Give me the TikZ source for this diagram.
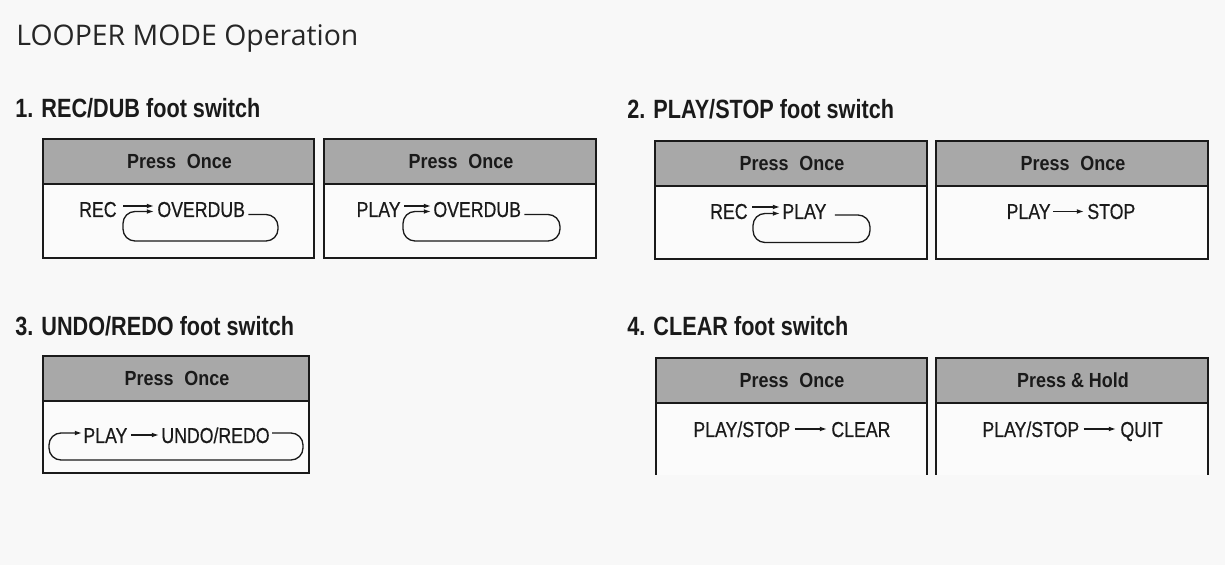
\documentclass[tikz,border=0pt]{standalone}
\usepackage{fontspec}
\setmainfont{Liberation Sans}
\newfontfamily\titlefontfam{Open Sans}
\newfontfamily\bodyfontfam[FakeStretch=0.82,FakeBold=0.5]{Liberation Sans}
\newfontfamily\headfontfam[FakeStretch=0.88]{Liberation Sans Bold}
\newfontfamily\sectfontfam[FakeStretch=0.82]{Liberation Sans Bold}
\usetikzlibrary{arrows.meta,calc}
\definecolor{bgcol}{HTML}{F8F8F8}
\definecolor{headcol}{HTML}{A8A8A8}
\definecolor{bodycol}{HTML}{FBFBFB}
\definecolor{inkcol}{HTML}{1A1A1A}
\definecolor{titlecol}{HTML}{262626}
\newcommand\myloopbox[4]{%
  \fill[bodycol] (#1,#2) rectangle (#3,#4);
  \fill[headcol] (#1,#2) rectangle (#3,{#2+45});
  \draw[divline] (#1,{#2+45}) -- (#3,{#2+45});
  \draw[boxline] (#1,#2) rectangle (#3,#4);}
\newcommand\myopenbox[4]{%
  \fill[bodycol] (#1,#2) rectangle (#3,#4);
  \fill[headcol] (#1,#2) rectangle (#3,{#2+45});
  \draw[divline] (#1,{#2+45}) -- (#3,{#2+45});
  \draw[boxline] (#1,#4) -- (#1,#2) -- (#3,#2) -- (#3,#4);}
\begin{document}
\begin{tikzpicture}[x=0.5pt,y=-0.5pt,
  boxline/.style={line width=1pt, draw=inkcol},
  divline/.style={line width=0.75pt, draw=inkcol},
  conn/.style={line width=0.65pt, draw=inkcol, -{Latex[length=3.6pt,width=2.4pt]}},
  loopline/.style={line width=0.65pt, draw=inkcol, rounded corners=6pt, -{Latex[length=3.6pt,width=2.4pt]}},
  wordw/.style={font=\bodyfontfam\fontsize{10.8pt}{12pt}\selectfont, inner sep=0pt, anchor=base west, text=inkcol},
  worde/.style={font=\bodyfontfam\fontsize{10.8pt}{12pt}\selectfont, inner sep=0pt, anchor=base east, text=inkcol},
  head/.style={font=\headfontfam\fontsize{10.2pt}{12pt}\selectfont, inner sep=0pt, anchor=base, text=inkcol},
  sect/.style={font=\sectfontfam\fontsize{13.2pt}{15pt}\selectfont, inner sep=0pt, anchor=base west, text=inkcol},
  ttl/.style={font=\titlefontfam\fontsize{14.2pt}{17pt}\selectfont, inner sep=0pt, anchor=base west, text=titlecol}]
\fill[bgcol] (0,0) rectangle (1225,565);
\useasboundingbox (0,0) rectangle (1225,565);

% titles
\node[ttl] (title) at (16,46) {LOOPER MODE Operation};
\node[sect] (s1) at (15,117.5) {1. REC/DUB foot switch};
\node[sect] (s2) at (627,118.5) {2. PLAY/STOP foot switch};
\node[sect] (s3) at (15,335.5) {3. UNDO/REDO foot switch};
\node[sect] (s4) at (627,335.5) {4. CLEAR foot switch};

% boxes
\myloopbox{43}{139}{314}{258}
\myloopbox{324}{139}{596}{258}
\myloopbox{655}{141}{927}{259}
\myloopbox{936}{141}{1208}{259}
\myloopbox{43}{356}{309}{473}
\myopenbox{656}{358}{927}{475}
\myopenbox{936}{358}{1208}{475}

% headers
\node[head] (h1a) at (179.5,168.5) {Press\hspace{5.5pt}Once};
\node[head] (h1b) at (461,168.5) {Press\hspace{5.5pt}Once};
\node[head] (h2a) at (792,170.5) {Press\hspace{5.5pt}Once};
\node[head] (h2b) at (1073,170.5) {Press\hspace{5.5pt}Once};
\node[head] (h3) at (177,385.5) {Press\hspace{5.5pt}Once};
\node[head] (h4a) at (792,387.5) {Press\hspace{5.5pt}Once};
\node[head] (h4b) at (1073,387.5) {Press \& Hold};

% box 1a
\node[worde] (rec1) at (117,217) {REC};
\node[wordw] (ovd1) at (157,217) {OVERDUB};
\draw[conn] ($(rec1.base east)+(6,-11)$) -- ($(ovd1.base west)+(-3,-11)$);
\draw[loopline] ($(ovd1.base east)+(3,-2.5)$) -- (278,214.5) -- (278,241) -- (123,241) -- (123,211.5) -- ($(ovd1.base west)+(-3,-5.5)$);

% box 1b
\node[worde] (play1) at (401,217) {PLAY};
\node[wordw] (ovd2) at (433,217) {OVERDUB};
\draw[conn] ($(play1.base east)+(3,-11)$) -- ($(ovd2.base west)+(-2,-11)$);
\draw[loopline] ($(ovd2.base east)+(3,-2.5)$) -- (560,214.5) -- (560,241) -- (403,241) -- (403,211.5) -- ($(ovd2.base west)+(-2,-5.5)$);

% box 2a
\node[worde] (rec2) at (748,219) {REC};
\node[wordw] (play2) at (782,219) {PLAY};
\draw[conn] ($(rec2.base east)+(4,-12)$) -- ($(play2.base west)+(-2,-12)$);
\draw[loopline] ($(play2.base east)+(8,-4)$) -- (870,215) -- (870,242.5) -- (753,242.5) -- (753,213.5) -- ($(play2.base west)+(-2,-5.5)$);

% box 2b
\node[worde] (play3) at (1051,219) {PLAY};
\node[wordw] (stop3) at (1087,219) {STOP};
\draw[conn] ($(play3.base east)+(2,-7.5)$) -- ($(stop3.base west)+(-3,-7.5)$);

% box 3
\node[wordw] (play4) at (83,443) {PLAY};
\node[wordw] (undo4) at (161,443) {UNDO/REDO};
\draw[conn] ($(play4.base east)+(3,-8)$) -- ($(undo4.base west)+(-2,-8)$);
\draw[loopline] ($(undo4.base east)+(2,-10)$) -- (303,433) -- (303,460) -- (49,460) -- (49,433) -- ($(play4.base west)+(-1,-10)$);

% box 4a
\node[wordw] (ps5) at (693,437) {PLAY/STOP};
\node[wordw] (clr5) at (831,437) {CLEAR};
\draw[conn] ($(ps5.base east)+(4,-8)$) -- ($(clr5.base west)+(-4,-8)$);

% box 4b
\node[wordw] (ps6) at (982,437) {PLAY/STOP};
\node[wordw] (quit6) at (1120,437) {QUIT};
\draw[conn] ($(ps6.base east)+(4,-8)$) -- ($(quit6.base west)+(-4,-8)$);
\end{tikzpicture}
\end{document}
